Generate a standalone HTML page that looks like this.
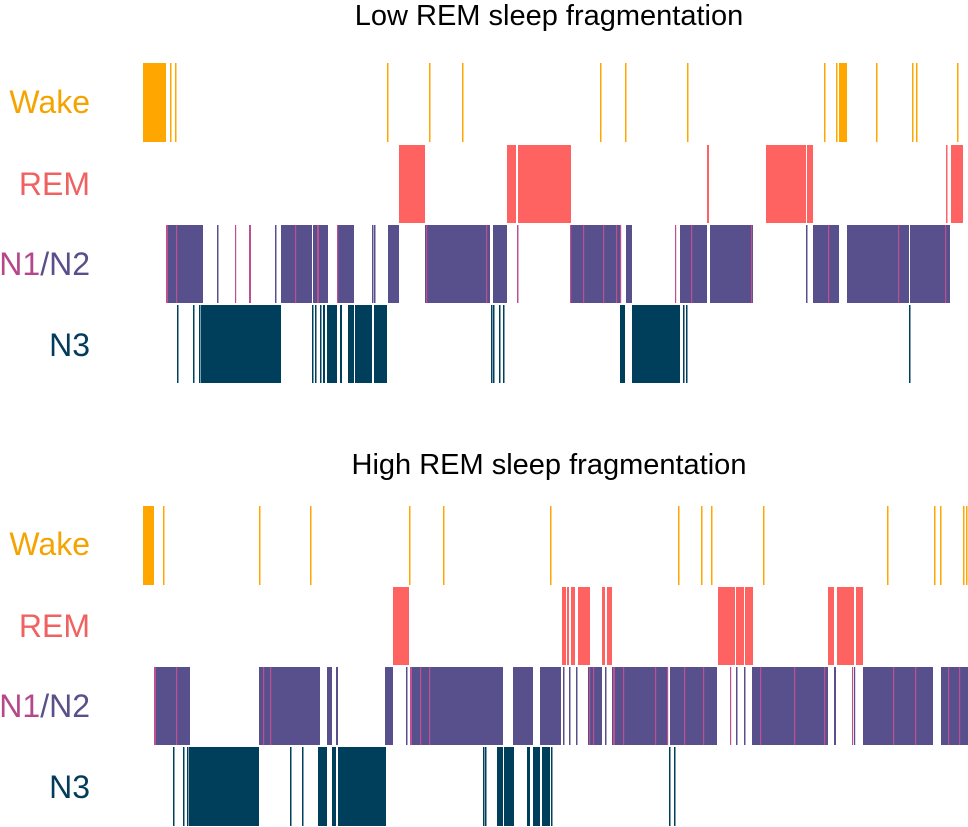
<!DOCTYPE html>
<html><head><meta charset="utf-8"><style>
html,body{margin:0;padding:0;background:#fff}
svg{display:block}
text{font-family:"Liberation Sans",Arial,sans-serif}
</style></head><body>
<svg id="chart" width="968" height="827" viewBox="0 0 968 827" xmlns="http://www.w3.org/2000/svg">
<text x="549" y="25" font-size="29" text-anchor="middle" fill="#000">Low REM sleep fragmentation</text>
<text x="549" y="474" font-size="29" text-anchor="middle" fill="#000">High REM sleep fragmentation</text>
<g font-size="32" text-anchor="end">
<text x="90" y="113" fill="#f5a300">Wake</text>
<text x="90" y="195" fill="#f06262">REM</text>
<text x="90" y="275"><tspan fill="#b5488a">N1</tspan><tspan fill="#5a4f8a">/N2</tspan></text>
<text x="90" y="356" fill="#033c5a">N3</text>
</g>
<g font-size="32" text-anchor="end">
<text x="90" y="555" fill="#f5a300">Wake</text>
<text x="90" y="637" fill="#f06262">REM</text>
<text x="90" y="717"><tspan fill="#b5488a">N1</tspan><tspan fill="#5a4f8a">/N2</tspan></text>
<text x="90" y="798" fill="#033c5a">N3</text>
</g>
<g id="marks"></g>
</svg>
<script>
// epoch segments [start, end]
const lowWake=[[0,23],[27,28.5],[32,33.5],[244,245.5],[286,287.5],[319,320.5],[457,458.5],[482,483.5],[544,545.5],[681,682.5],[693,694.5],[696,704],[733,734.5],[769,770.5],[773,774.5],[814,815.5]];
const lowREM=[[256,282],[364,373],[375,428],[564,566],[623,663],[664,670],[803,804.5],[808,820]];
const lowN2=[[23,60],[74,75.5],[132,133.5],[138,169],[170,185],[194,211],[229,230.5],[231,232.5],[245,256],[282,347],[350,364],[374,375.5],[428,477],[483,489],[537,564],[567,610],[663,664.5],[670,696],[704,766],[767,807]];
const lowN1=[[23,25],[33,34],[92,93],[106,108],[152,153],[174,176],[194,195],[283,284],[343,344],[374,375.5],[427,428],[440,441],[460,461],[473,474],[477,478],[532,533],[548,549],[608,609],[685,686],[755,756],[802,803]];
const lowN3=[[34,35.5],[50,51.5],[56,57.5],[58,132],[132,138],[169,170.5],[172,173.5],[177,178.5],[180,182],[184,194],[197,199],[205,211],[212,229],[231,244],[348,349.5],[350,351.5],[356,357.5],[360,361.5],[477,482],[489,537],[540,541.5],[543,544.5],[766,767.5]];
const highWake=[[0,11],[20,21.5],[116,117.5],[167,168.5],[266,267.5],[300,301.5],[407,408.5],[535,536.5],[558,559.5],[568,569.5],[620,621.5],[744,745.5],[791,792.5],[797,798.5],[820,821.5],[823,824.5]];
const highREM=[[250,266],[419,423],[424,426],[428,432],[435,447],[459,462],[464,469],[575,592],[593,601],[602,610],[685,691],[694,711],[713,720]];
const highN2=[[11,47],[116,177],[184,189],[193,195],[242,250],[263,264.5],[267,360],[370,390],[397,418],[420,421.5],[426,427.5],[433,434.5],[445,459],[462,463.5],[469,525],[527,574],[593,594.5],[601,602.5],[609,610],[610,685],[691,693],[711,712],[720,790],[798,825]];
const highN1=[[11,13],[33,34],[120,121],[127,128],[267,269],[277,278],[286,287],[446,447],[450,451],[470,472],[480,481],[512,513],[524,525],[541,542],[560,561],[587,588],[617,618],[651,652],[681,682],[709,710],[750,751],[772,773],[805,806],[816,817]];
const highN3=[[30,31.5],[40,41.5],[44,45.5],[46,116],[147,148.5],[159,160.5],[175,184],[189,193],[195,243],[340,341.5],[342,343.5],[354,360],[361,371],[384,387],[390,397],[399,407],[408,409.5],[526,527.5],[531,532.5]];

const X0=143, X1=968, EPOCHS=825;
function xScale(e){return X0+e*(X1-X0)/EPOCHS;}
const NS="http://www.w3.org/2000/svg";
const marks=document.getElementById('marks');
function drawRow(segs,y0,y1,color,name){
  const g=document.createElementNS(NS,'g');
  
  
  segs.forEach(s=>{
    const r=document.createElementNS(NS,'rect');
    const a=xScale(s[0]), b=xScale(s[1]);
    r.setAttribute('x',a);r.setAttribute('y',y0);
    r.setAttribute('width',Math.max(1.2,b-a));r.setAttribute('height',y1-y0);
    r.setAttribute('fill',color);
    
    
    g.appendChild(r);
  });
  marks.appendChild(g);
}
const WAKE="#ffa600",REMC="#ff6361",N2C="#58508d",N1C="#bc5090",N3C="#003f5c";
drawRow(lowWake,63,142,WAKE,'low-wake');
drawRow(lowREM,145,223,REMC,'low-rem');
drawRow(lowN2,225,303,N2C,'low-n2');
drawRow(lowN1,225,303,N1C,'low-n1');
drawRow(lowN3,305,383,N3C,'low-n3');
drawRow(highWake,506,585,WAKE,'high-wake');
drawRow(highREM,587,665,REMC,'high-rem');
drawRow(highN2,667,745,N2C,'high-n2');
drawRow(highN1,667,745,N1C,'high-n1');
drawRow(highN3,747,826,N3C,'high-n3');
</script>
</body></html>
